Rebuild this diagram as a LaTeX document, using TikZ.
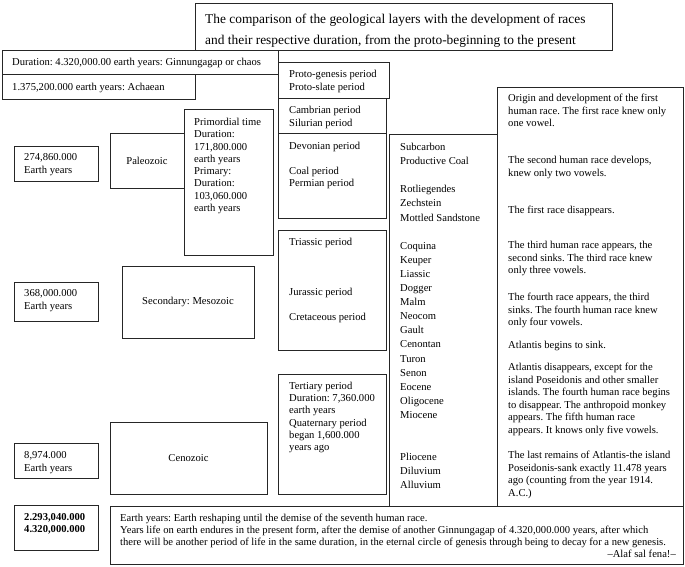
\documentclass[tikz,border=0pt]{standalone}
\usepackage{fontspec}
\setmainfont{Liberation Serif}
\usetikzlibrary{fit}
\frenchspacing
\newcommand\tbox[4]{\parbox[t]{#1}{\raggedright\fontsize{#2}{#3}\selectfont #4}}
\begin{document}
\begin{tikzpicture}[x=1pt,y=-1pt,
  box/.style={draw=black!85, line width=0.9pt, inner sep=0pt, rectangle},
  txt/.style={inner sep=0pt, anchor=base west},
  ctxt/.style={inner sep=0pt, anchor=center, font=\fontsize{10.6}{12.5}\selectfont}]
\useasboundingbox (0,0) rectangle (685,567);
% boxes
\node[box, fit={(195,3) (612,50)}] (title) {};
\node[box, fit={(2,50) (278,74)}] (dur) {};
\node[box, fit={(2,74) (195,99)}] (ach) {};
\node[box, fit={(278,62) (389,98)}] (proto) {};
\node[box, fit={(278,98) (386,133)}] (camb) {};
\node[box, fit={(278,133) (386,218)}] (devon) {};
\node[box, fit={(278,230) (386,350)}] (trias) {};
\node[box, fit={(278,374) (386,494)}] (tert) {};
\node[box, fit={(184,109) (273,255)}] (prim) {};
\node[box, fit={(110,133) (184,188)}] (paleo) {};
\node[box, fit={(14,146) (98,181)}] (ya) {};
\node[box, fit={(14,282) (98,321)}] (yb) {};
\node[box, fit={(122,266) (254,338)}] (second) {};
\node[box, fit={(14,443) (98,478)}] (yc) {};
\node[box, fit={(110,422) (267,494)}] (ceno) {};
\node[box, fit={(14,505) (98,550)}] (ytot) {};
\node[box, fit={(110,506) (683,564)}] (bottom) {};
\node[box, fit={(389,134) (497,506)}] (strata) {};
\node[box, fit={(497,87) (683,506)}] (races) {};
% texts
\node[txt] (ttitle) at (205,23.5) {\tbox{400pt}{13.4}{21}{The comparison of the geological layers with the development of races\\and their respective duration, from the proto-beginning to the present}};
\node[txt] (tdur) at (12,65.5) {\tbox{270pt}{10.6}{12.5}{Duration: 4.320,000.00 earth years: Ginnungagap or chaos}};
\node[txt] (tach) at (12,90.5) {\tbox{180pt}{10.6}{12.5}{1.375,200.000 earth years: Achaean}};
\node[txt] (tproto) at (289,77.5) {\tbox{100pt}{10.6}{13}{Proto-genesis period\\Proto-slate period}};
\node[txt] (tcamb) at (289,113.5) {\tbox{100pt}{10.6}{13}{Cambrian period\\Silurian period}};
\node[txt] (tdevon) at (289,149.5) {\tbox{100pt}{10.6}{12.5}{Devonian period\\\mbox{}\\Coal period\\Permian period}};
\node[txt] (ttrias) at (289,245.5) {\tbox{100pt}{10.6}{12.5}{Triassic period\\\mbox{}\\\mbox{}\\\mbox{}\\Jurassic period\\\mbox{}\\Cretaceous period}};
\node[txt] (ttert) at (289,389.5) {\tbox{100pt}{10.6}{12.2}{Tertiary period\\Duration: 7,360.000\\earth years\\Quaternary period\\began 1,600.000\\years ago}};
\node[txt] (tprim) at (194,125.5) {\tbox{80pt}{10.6}{12.3}{Primordial time\\Duration:\\171,800.000\\earth years\\Primary:\\Duration:\\103,060.000\\earth years}};
\node[ctxt] (tpaleo) at (paleo.center) {Paleozoic};
\node[ctxt] (tsecond) at (second.center) {Secondary: Mesozoic};
\node[ctxt] (tceno) at (ceno.center) {Cenozoic};
\node[txt] (tya) at (24,160.5) {\tbox{70pt}{10.6}{13}{274,860.000\\Earth years}};
\node[txt] (tyb) at (24,296.5) {\tbox{70pt}{10.6}{13}{368,000.000\\Earth years}};
\node[txt] (tyc) at (24,458.5) {\tbox{70pt}{10.6}{12.5}{8,974.000\\Earth years}};
\node[txt] (tytot) at (24,520.5) {\tbox{70pt}{10.6}{11.5}{\bfseries 2.293,040.000\\4.320,000.000}};
\node[txt] (tbottom) at (120,521) {\tbox{565pt}{10.6}{12.3}{Earth years: Earth reshaping until the demise of the seventh human race.\\Years life on earth endures in the present form, after the demise of another Ginnungagap of 4.320,000.000 years, after which\\there will be another period of life in the same duration, in the eternal circle of genesis through being to decay for a new genesis.}};
\node[inner sep=0pt, anchor=base east, font=\fontsize{10.6}{12.3}\selectfont] (talaf) at (676,557.9) {–Alaf sal fena!–};
\node[txt] (tstrata) at (400,150.5) {\tbox{95pt}{10.6}{14.1}{Subcarbon\\Productive Coal\\\mbox{}\\Rotliegendes\\Zechstein\\Mottled Sandstone\\\mbox{}\\Coquina\\Keuper\\Liassic\\Dogger\\Malm\\Neocom\\Gault\\Cenontan\\Turon\\Senon\\Eocene\\Oligocene\\Miocene\\\mbox{}\\\mbox{}\\Pliocene\\Diluvium\\Alluvium}};
\node[txt] (r1) at (508,101.5) {\tbox{175pt}{10.6}{12.6}{Origin and development of the first\\human race. The first race knew only\\one vowel.}};
\node[txt] (r2) at (508,163.5) {\tbox{175pt}{10.6}{12.6}{The second human race develops,\\knew only two vowels.}};
\node[txt] (r3) at (508,213.5) {\tbox{175pt}{10.6}{12.6}{The first race disappears.}};
\node[txt] (r4) at (508,248.5) {\tbox{175pt}{10.6}{12.6}{The third human race appears, the\\second sinks. The third race knew\\only three vowels.}};
\node[txt] (r5) at (508,300.5) {\tbox{175pt}{10.6}{12.6}{The fourth race appears, the third\\sinks. The fourth human race knew\\only four vowels.}};
\node[txt] (r6) at (508,348.5) {\tbox{175pt}{10.6}{12.6}{Atlantis begins to sink.}};
\node[txt] (r7) at (508,370.5) {\tbox{175pt}{10.6}{12.6}{Atlantis disappears, except for the\\island Poseidonis and other smaller\\islands. The fourth human race begins\\to disappear. The anthropoid monkey\\appears. The fifth human race\\appears. It knows only five vowels.}};
\node[txt] (r8) at (508,458.5) {\tbox{175pt}{10.6}{12.6}{The last remains of Atlantis-the island\\Poseidonis-sank exactly 11.478 years\\ago (counting from the year 1914.\\A.C.)}};
\end{tikzpicture}
\end{document}
